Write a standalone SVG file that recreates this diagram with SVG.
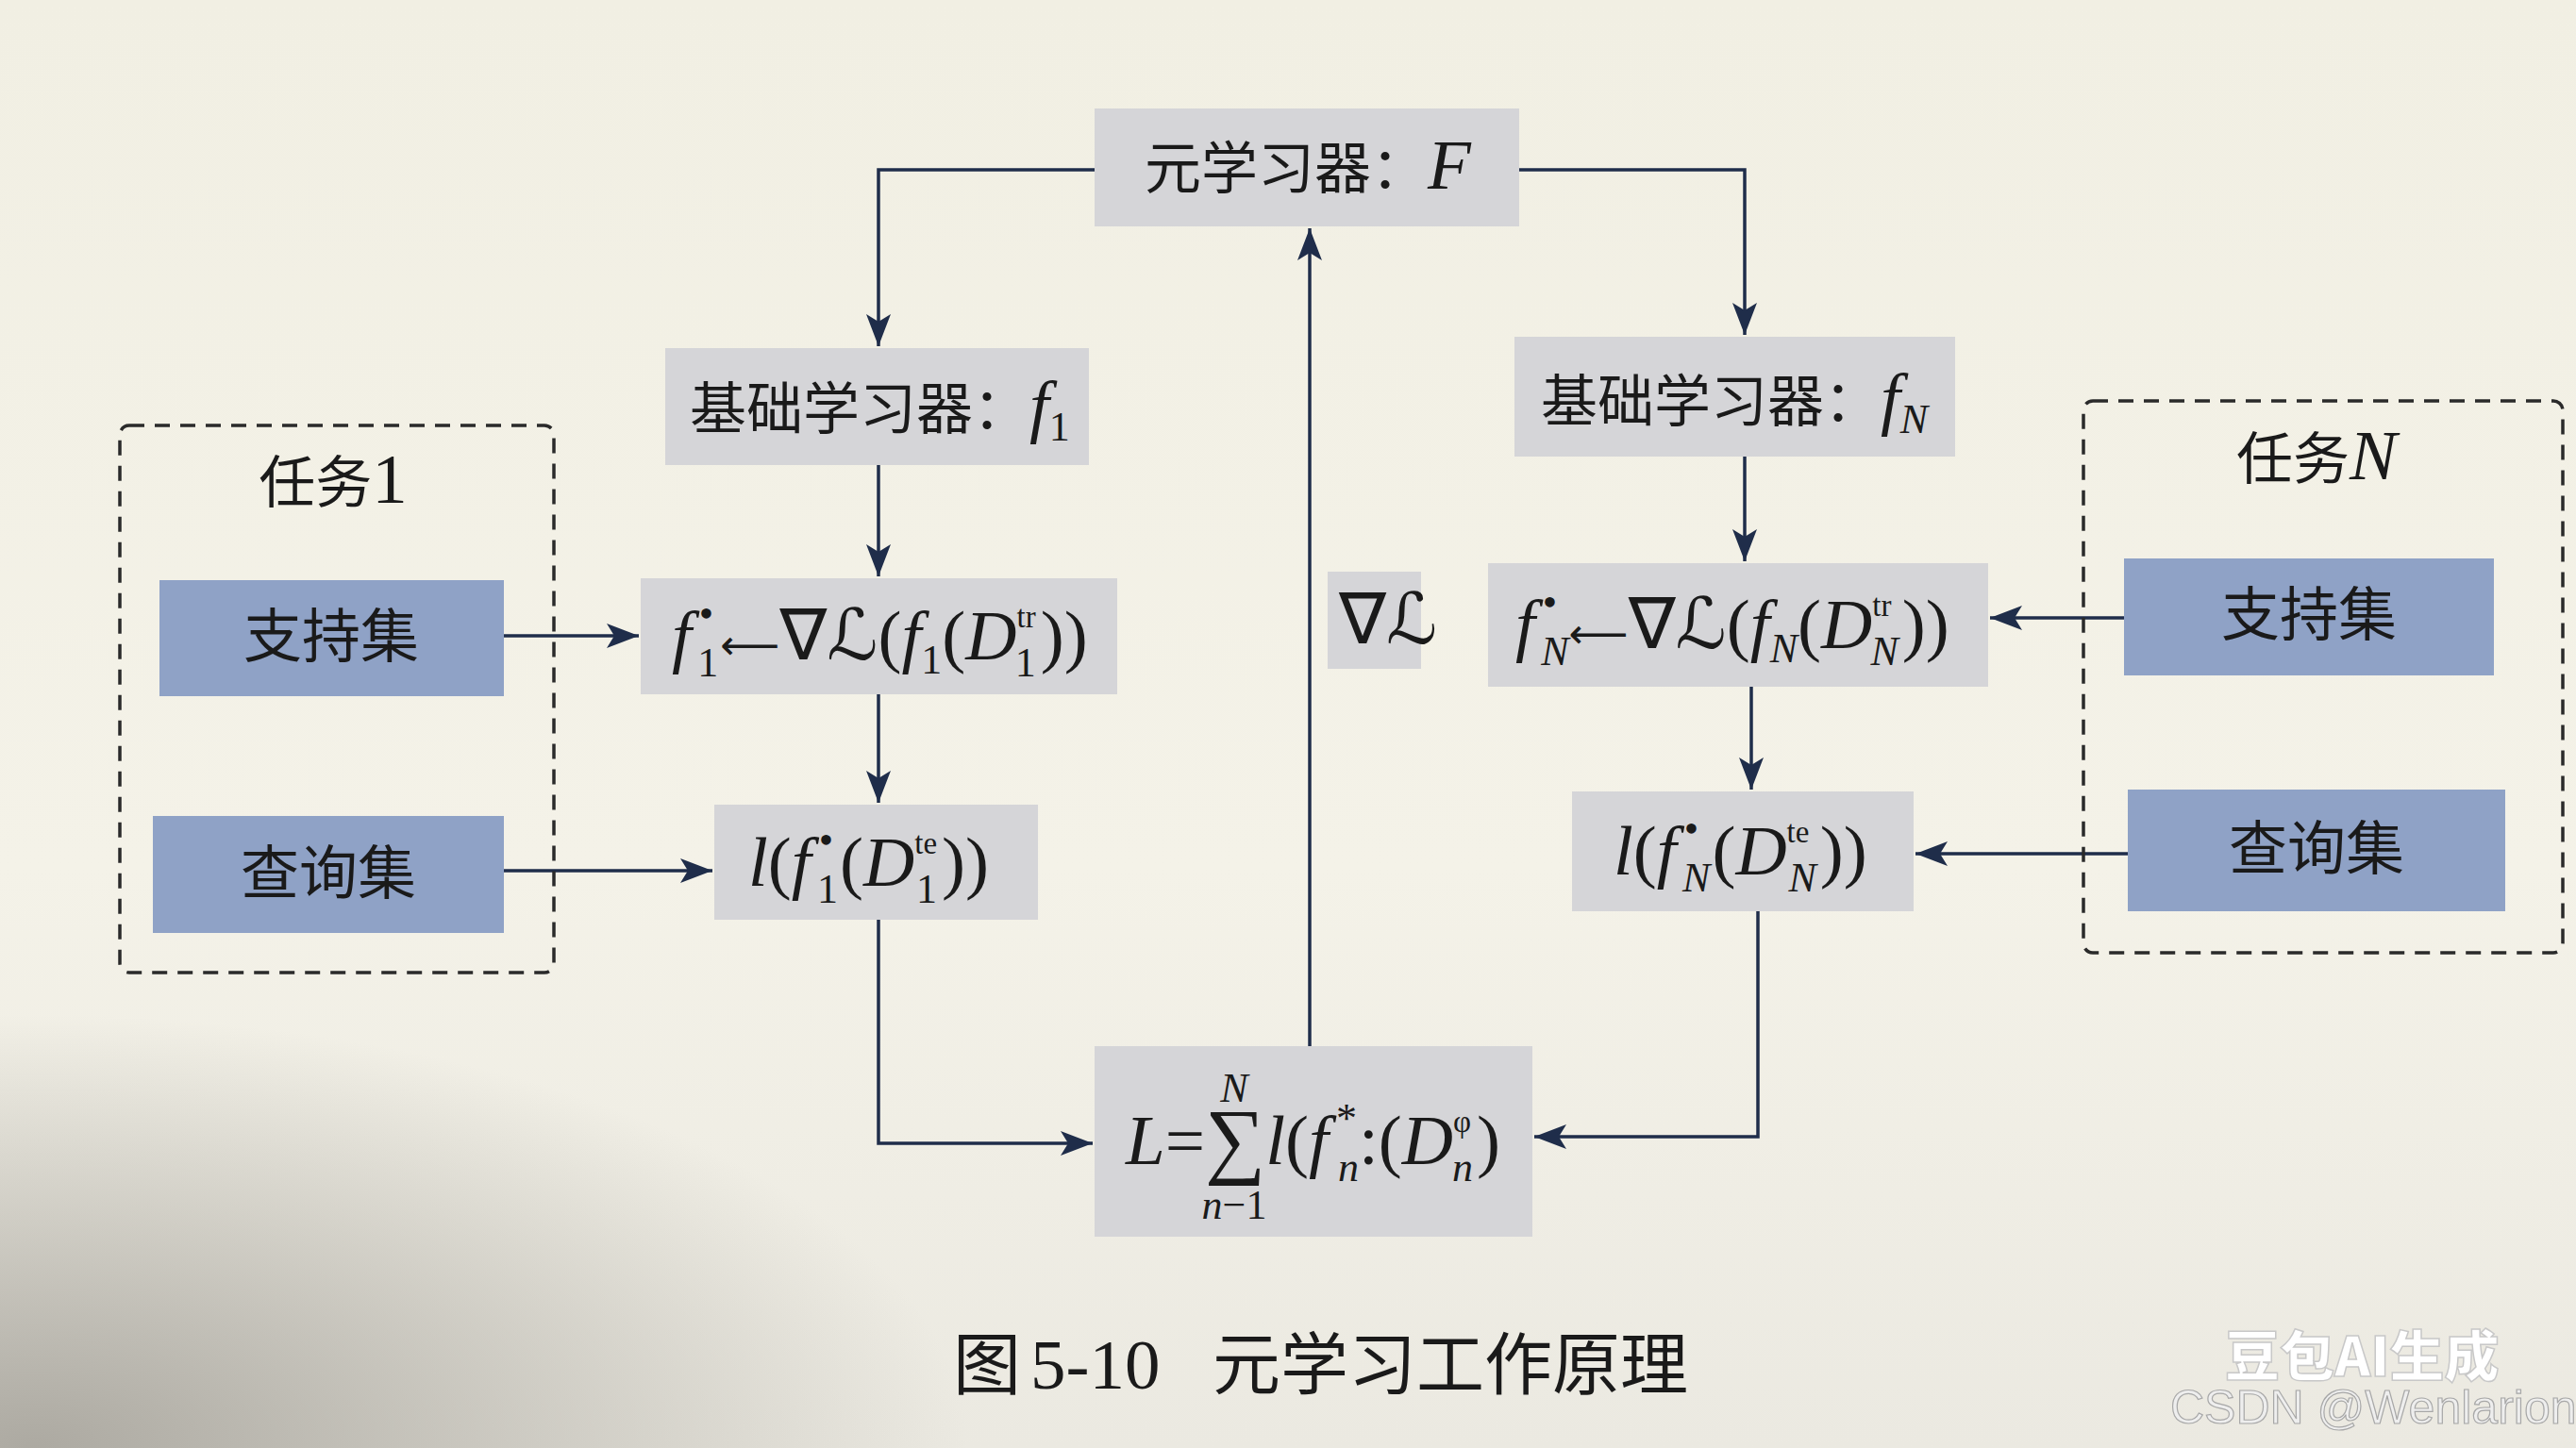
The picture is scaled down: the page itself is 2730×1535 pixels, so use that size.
<svg xmlns="http://www.w3.org/2000/svg" width="2730" height="1535" viewBox="0 0 2730 1535">
<defs>
<linearGradient id="bg" x1="0" y1="0" x2="0" y2="1">
<stop offset="0" stop-color="#f1efe3"/>
<stop offset="0.6" stop-color="#f4f2e8"/>
<stop offset="1" stop-color="#ebe9e1"/>
</linearGradient>
<radialGradient id="shade" cx="0.02" cy="1" r="0.55">
<stop offset="0" stop-color="#a9a69e" stop-opacity="0.95"/>
<stop offset="1" stop-color="#a9a69e" stop-opacity="0"/>
</radialGradient>
<marker id="arr" markerUnits="userSpaceOnUse" markerWidth="36" markerHeight="26" refX="34" refY="13" orient="auto">
<path d="M0,0 L34,13 L0,26 L8,13 Z" fill="#1f2d4a"/>
</marker>
<style>
.gbox{fill:#d5d5d8}
.bbox{fill:#8fa2c6}
.dash{fill:none;stroke:#2a2a2a;stroke-width:3.5;stroke-dasharray:16 11}
.conn path{fill:none;stroke:#1f2d4a;stroke-width:3.5;marker-end:url(#arr)}
.zh{font-family:"Noto Sans CJK SC","Noto Sans",sans-serif;font-size:60px;fill:#1a1a1a}
.bl{font-size:62px;text-anchor:middle}
.m{font-family:"Liberation Serif","DejaVu Sans","DejaVu Serif",serif;font-size:75px;fill:#1a1a1a}
.i{font-style:italic}
.s{font-size:44px}
.ss{font-size:33px}
.ar{font-family:"DejaVu Sans",sans-serif;font-size:44px}
.cap{font-family:"Noto Sans CJK SC",sans-serif;font-size:72px;fill:#1a1a1a}
</style>
</defs>
<rect x="0" y="0" width="2730" height="1535" fill="url(#bg)"/>
<rect x="0" y="700" width="1800" height="835" fill="url(#shade)"/>

<g id="connectors" class="conn">
<path d="M1160,180 H931 V367"/>
<path d="M1610,180 H1849 V355"/>
<path d="M931,493 V611"/>
<path d="M931,736 V851"/>
<path d="M931,975 V1212 H1158"/>
<path d="M1388,1109 V242"/>
<path d="M534,674 H677"/>
<path d="M534,923 H755"/>
<path d="M1849,484 V595"/>
<path d="M1856,728 V837"/>
<path d="M1863,966 V1205 H1626"/>
<path d="M2251,655 H2109"/>
<path d="M2255,905 H2030"/>
</g>

<g id="task1">
<rect class="dash" x="127" y="451" width="460" height="580" rx="10"/>
<text class="zh" x="353" y="533" text-anchor="middle">任务<tspan class="m" font-size="62">1</tspan></text>
</g>
<g id="support1">
<rect class="bbox" x="169" y="615" width="365" height="123"/>
<text class="zh bl" x="351" y="697">支持集</text>
</g>
<g id="query1">
<rect class="bbox" x="162" y="865" width="372" height="124"/>
<text class="zh bl" x="348" y="948">查询集</text>
</g>

<g id="taskN">
<rect class="dash" x="2208" y="425" width="508" height="585" rx="10"/>
<text class="zh" x="2455" y="508" text-anchor="middle">任务<tspan class="m i" font-size="62">N</tspan></text>
</g>
<g id="supportN">
<rect class="bbox" x="2251" y="592" width="392" height="124"/>
<text class="zh bl" x="2447" y="674">支持集</text>
</g>
<g id="queryN">
<rect class="bbox" x="2255" y="837" width="400" height="129"/>
<text class="zh bl" x="2455" y="922">查询集</text>
</g>

<g id="meta">
<rect class="gbox" x="1160" y="115" width="450" height="125"/>
<text class="zh" x="1213" y="200">元学习器：<tspan class="m i" font-size="68">F</tspan></text>
</g>

<g id="base1">
<rect class="gbox" x="705" y="369" width="449" height="124"/>
<text class="zh" x="731" y="455">基础学习器：<tspan class="m i" font-size="70">f</tspan><tspan class="m s" dy="12">1</tspan></text>
</g>

<g id="baseN">
<rect class="gbox" x="1605" y="357" width="467" height="127"/>
<text class="zh" x="1633" y="447">基础学习器：<tspan class="m i" font-size="70">f</tspan><tspan class="m s i" dy="12">N</tspan></text>
</g>

<g id="adapt1">
<rect class="gbox" x="679" y="613" width="505" height="123"/>
<text class="m" x="712" y="699"><tspan class="i">f</tspan><tspan class="s" dx="8" dy="-34">•</tspan><tspan class="s" dx="-17" dy="52">1</tspan><tspan class="ar" dx="2" dy="-18">⟵</tspan>∇ℒ(<tspan class="i">f</tspan><tspan class="s" dy="15">1</tspan><tspan dy="-15">(</tspan><tspan class="i">D</tspan><tspan class="ss" dy="-34">tr</tspan><tspan class="s" dx="-22" dy="52">1</tspan><tspan dx="5" dy="-18">))</tspan></text>
</g>

<g id="loss1">
<rect class="gbox" x="757" y="853" width="343" height="122"/>
<text class="m" x="793" y="939"><tspan class="i">l</tspan>(<tspan class="i">f</tspan><tspan class="s" dx="8" dy="-34">•</tspan><tspan class="s" dx="-17" dy="52">1</tspan><tspan dx="2" dy="-18">(</tspan><tspan class="i">D</tspan><tspan class="ss" dy="-34">te</tspan><tspan class="s" dx="-22" dy="52">1</tspan><tspan dx="5" dy="-18">))</tspan></text>
</g>

<g id="grad">
<rect class="gbox" x="1407" y="606" width="99" height="103"/>
<text class="m" x="1419" y="682" font-size="70">∇ℒ</text>
</g>

<g id="adaptN">
<rect class="gbox" x="1577" y="597" width="530" height="131"/>
<text class="m" x="1606" y="687"><tspan class="i">f</tspan><tspan class="s" dx="8" dy="-34">•</tspan><tspan class="s i" dx="-17" dy="52">N</tspan><tspan class="ar" dx="0" dy="-18">⟵</tspan>∇ℒ(<tspan class="i">f</tspan><tspan class="s i" dy="15">N</tspan><tspan dy="-15">(</tspan><tspan class="i">D</tspan><tspan class="ss" dy="-34">tr</tspan><tspan class="s i" dx="-22" dy="52">N</tspan><tspan dx="4" dy="-18">))</tspan></text>
</g>

<g id="lossN">
<rect class="gbox" x="1666" y="839" width="362" height="127"/>
<text class="m" x="1710" y="927"><tspan class="i">l</tspan>(<tspan class="i">f</tspan><tspan class="s" dx="8" dy="-34">•</tspan><tspan class="s i" dx="-17" dy="52">N</tspan><tspan dx="2" dy="-18">(</tspan><tspan class="i">D</tspan><tspan class="ss" dy="-34">te</tspan><tspan class="s i" dx="-22" dy="52">N</tspan><tspan dx="4" dy="-18">))</tspan></text>
</g>

<g id="metaloss">
<rect class="gbox" x="1160" y="1109" width="464" height="202"/>
<text class="m" x="1193" y="1234"><tspan class="i">L</tspan>=<tspan font-size="90" dy="4">∑</tspan><tspan class="i" dy="-4">l</tspan>(<tspan class="i">f</tspan><tspan class="s" dx="8" dy="-34">*</tspan><tspan class="s i" dx="-20" dy="52">n</tspan><tspan dy="-18">:(</tspan><tspan class="i">D</tspan><tspan class="ss" dy="-34">φ</tspan><tspan class="s i" dx="-20" dy="52">n</tspan><tspan dx="4" dy="-18">)</tspan></text>
<text class="m s i" x="1308" y="1168" text-anchor="middle">N</text>
<text class="m s" x="1308" y="1292" text-anchor="middle"><tspan class="i">n</tspan>−1</text>
</g>

<g id="caption">
<text class="cap" x="1010" y="1472">图</text>
<text class="m" x="1092" y="1472" font-size="72">5-10</text>
<text class="cap" x="1285" y="1472">元学习工作原理</text>
</g>

<g id="watermark">
<text x="2358" y="1459" font-family="Noto Sans CJK SC,sans-serif" font-weight="900" font-size="58" fill="#ffffff" stroke="#c8c8c8" stroke-width="1.5">豆包AI生成</text>
<text x="2300" y="1509" font-family="Liberation Sans,sans-serif" font-size="50" fill="#eeeeee" stroke="#a8a8a8" stroke-width="1.2">CSDN @Wenlarion</text>
</g>
</svg>
